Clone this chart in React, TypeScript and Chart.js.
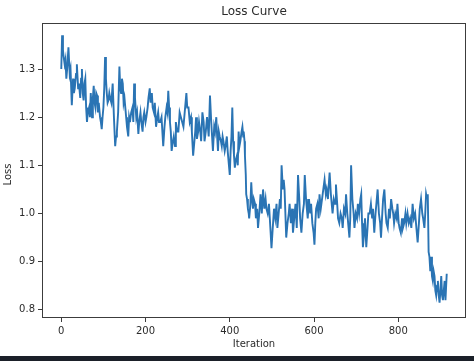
import React, { useEffect, useRef } from "react";
import { Chart, registerables } from "chart.js";

Chart.register(...registerables);

const TITLE = "Loss Curve";
const X_LABEL = "Iteration";
const Y_LABEL = "Loss";
const X_TICKS = [0, 200, 400, 600, 800];
const Y_TICKS = [0.8, 0.9, 1.0, 1.1, 1.2, 1.3];

const iterations = [
  0, 2, 4, 5, 8, 10, 12, 14, 17, 20, 22, 25, 28, 30, 32, 35, 37, 40, 42, 45, 47, 49, 51, 53, 55, 57, 59, 61, 63, 66,
  68, 70, 73, 75, 77, 79, 81, 83, 85, 87, 89, 92, 94, 96, 98, 100, 102, 104, 106, 108, 110, 112, 114, 116, 119, 122, 125, 128, 130,
  132, 135, 138, 140, 142, 144, 146, 148, 150, 152, 154, 156, 159, 161, 163, 166, 169, 171, 173, 175, 178, 180, 183, 185, 188, 190,
  193, 195, 197, 200, 202, 205, 207, 210, 212, 215, 217, 220, 222, 225, 228, 230, 232, 235, 238, 240, 242, 245, 247, 250,
  252, 254, 256, 258, 260, 262, 265, 267, 270, 272, 275, 278, 281, 284, 287, 290, 293, 297, 299, 302, 305, 308, 310, 313, 316,
  318, 320, 322, 325, 327, 330, 332, 335, 338, 340, 343, 346, 348, 350, 353, 356, 358, 360, 363, 365, 368, 370, 372, 374, 376,
  379, 381, 383, 385, 388, 390, 393, 395, 398, 400, 402, 404, 406, 408, 410, 412, 414, 417, 419, 421, 423, 425, 428, 430, 432,
  433, 435, 436, 438, 439,
  441, 443, 445, 446, 449, 451, 453, 455, 457, 460, 462, 465, 467, 470, 473, 476, 479, 482, 485, 487, 490, 493, 495, 497, 499,
  502, 505, 508, 511, 513, 516, 519, 521, 523, 526, 528, 530, 532, 534, 537, 540, 542, 545, 548, 550, 553, 556, 559, 562, 565,
  567, 570, 573, 576, 578, 581, 583, 585, 588, 591, 593, 596, 599, 601, 603, 605, 608, 611, 613, 616, 619, 622, 625, 628, 630,
  633, 635, 637, 640, 642, 644, 647, 650, 652, 655, 657, 660, 663, 666, 668, 671, 674, 676, 679, 681, 684, 686, 688, 691, 694,
  696, 699, 702, 704, 707, 710, 712, 714, 716, 719, 721, 724, 727, 729, 732, 735, 738, 740, 743, 746, 748, 751, 754, 757, 759,
  762, 764, 767, 770, 772, 775, 778, 780, 783, 786, 788, 790, 793, 796, 798, 801, 803, 806, 809, 811, 814, 817, 819, 822, 825,
  828, 831, 834, 837, 840, 843, 846, 849, 851, 854, 857, 859, 862, 864, 866, 868, 870,
  872, 874, 876, 878, 880, 882, 884, 886, 888, 890, 892, 894, 896, 898, 900, 902, 904, 906, 908, 910, 912, 915,
];

const loss = [
  1.30, 1.37, 1.34, 1.33, 1.31, 1.32, 1.28, 1.30, 1.345, 1.29, 1.30, 1.225, 1.28, 1.25, 1.26, 1.29, 1.31, 1.26, 1.27, 1.24, 1.28, 1.30, 1.25, 1.235, 1.27, 1.28, 1.22, 1.19, 1.21, 1.22,
  1.20, 1.25, 1.20, 1.24, 1.265, 1.23, 1.22, 1.25, 1.245, 1.21, 1.23, 1.20, 1.19, 1.175, 1.20, 1.22, 1.26, 1.325, 1.28, 1.25, 1.23, 1.235, 1.25, 1.24, 1.23, 1.27, 1.20, 1.14, 1.16,
  1.17, 1.21, 1.305, 1.26, 1.25, 1.28, 1.27, 1.23, 1.24, 1.22, 1.20, 1.18, 1.16, 1.20, 1.19, 1.21, 1.22, 1.19, 1.27, 1.24, 1.20, 1.21, 1.165, 1.19, 1.21, 1.19,
  1.17, 1.20, 1.21, 1.19, 1.20, 1.22, 1.24, 1.26, 1.23, 1.25, 1.22, 1.21, 1.23, 1.18, 1.20, 1.21, 1.19, 1.19, 1.20, 1.17, 1.14, 1.18, 1.20, 1.22,
  1.21, 1.255, 1.22, 1.19, 1.17, 1.13, 1.15, 1.16, 1.14, 1.19, 1.17, 1.17, 1.21, 1.20, 1.19, 1.18, 1.21, 1.25, 1.22, 1.22, 1.19, 1.20, 1.17, 1.12, 1.15,
  1.17, 1.20, 1.155, 1.17, 1.19, 1.17, 1.15, 1.21, 1.19, 1.15, 1.17, 1.20, 1.20, 1.16, 1.245, 1.19, 1.16, 1.13, 1.18, 1.17, 1.20, 1.16, 1.13, 1.17, 1.16,
  1.15, 1.14, 1.16, 1.15, 1.13, 1.14, 1.16, 1.13, 1.10, 1.08, 1.13, 1.16, 1.22, 1.15, 1.12, 1.095, 1.11, 1.12, 1.10, 1.17, 1.14, 1.15, 1.17, 1.18, 1.16,
  1.17, 1.15, 1.12, 1.08, 1.04,
  1.03, 1.01, 1.00, 0.99, 1.02, 1.065, 1.03, 1.01, 1.03, 1.02, 0.99, 1.01, 0.97, 1.00, 1.04, 1.00, 1.05, 1.01, 1.03, 1.01, 1.00, 1.02, 0.99, 0.96, 0.928,
  0.97, 1.01, 0.99, 1.02, 0.97, 1.00, 1.03, 1.01, 1.10, 1.05, 1.07, 1.05, 1.00, 0.95, 0.98, 1.00, 1.02, 0.98, 1.01, 0.96, 0.99, 1.02, 0.97, 1.08, 1.03,
  0.99, 0.96, 1.00, 1.02, 1.08, 1.03, 1.01, 0.99, 1.03, 1.00, 1.02, 0.98, 0.96, 0.935, 0.98, 1.01, 1.02, 0.99, 1.04, 1.01, 1.03, 1.05, 1.07, 1.04, 1.05,
  1.03, 1.06, 1.085, 1.04, 1.02, 1.00, 1.03, 1.02, 1.06, 1.02, 0.99, 0.98, 1.00, 0.99, 0.97, 1.01, 1.00, 1.04, 1.00, 0.98, 0.95, 0.99, 1.10, 1.03, 1.00,
  0.97, 1.00, 0.99, 1.02, 1.00, 1.03, 1.04, 0.98, 0.93, 0.96, 0.99, 0.93, 0.97, 1.00, 1.00, 1.02, 0.99, 1.01, 0.96, 1.00, 1.02, 1.05, 1.00, 0.98, 0.95,
  1.00, 1.03, 1.05, 1.00, 0.98, 0.97, 1.01, 0.99, 1.03, 1.01, 1.00, 0.98, 1.00, 0.99, 1.02, 0.98, 0.97, 0.96, 0.99, 0.97, 0.98, 1.00, 0.98, 1.00, 0.98,
  0.99, 0.97, 1.02, 0.99, 1.00, 0.97, 0.94, 0.98, 1.01, 1.03, 1.00, 0.99, 0.97, 1.00, 1.04, 1.03, 1.04,
  0.92, 0.91, 0.88, 0.91, 0.87, 0.86, 0.88, 0.87, 0.84, 0.83, 0.85, 0.86, 0.83, 0.815, 0.84, 0.87, 0.83, 0.82, 0.84, 0.86, 0.82, 0.875,
];

const FONT = "'DejaVu Sans', sans-serif";
const INK = "#2b2b2b";

export default function App() {
  const ref = useRef<HTMLCanvasElement | null>(null);

  useEffect(() => {
    if (!ref.current) return;
    const points = iterations.map((x, i) => ({ x, y: loss[i] }));

    const decor = {
      id: "decor",
      afterDraw(chart: any) {
        const { ctx, chartArea: a } = chart;
        ctx.save();
        ctx.strokeStyle = "#3c3c3c";
        ctx.lineWidth = 1;
        ctx.strokeRect(a.left + 0.5, a.top + 0.5, a.right - a.left - 1, a.bottom - a.top - 1);
        ctx.fillStyle = INK;
        ctx.textAlign = "center";
        ctx.textBaseline = "middle";
        ctx.font = `12px ${FONT}`;
        ctx.fillText(TITLE, (a.left + a.right) / 2, 12);
        ctx.font = `10px ${FONT}`;
        ctx.fillText(X_LABEL, (a.left + a.right) / 2, 344);
        ctx.translate(8, (a.top + a.bottom) / 2 + 4);
        ctx.rotate(-Math.PI / 2);
        ctx.fillText(Y_LABEL, 0, 0);
        ctx.restore();
      },
    };

    const chart = new Chart(ref.current, {
      type: "line",
      data: {
        datasets: [
          {
            data: points,
            borderColor: "#2a74b4",
            borderWidth: 1.9,
            pointRadius: 0,
            tension: 0,
            fill: false,
          },
        ],
      },
      options: {
        animation: false,
        responsive: false,
        maintainAspectRatio: false,
        layout: { padding: { left: 0, top: 23, right: 8, bottom: 0 } },
        plugins: { legend: { display: false }, tooltip: { enabled: false }, title: { display: false } },
        scales: {
          x: {
            type: "linear",
            min: -45.75,
            max: 960.75,
            afterBuildTicks: (s: any) => {
              s.ticks = X_TICKS.map((v) => ({ value: v }));
            },
            afterFit: (s: any) => {
              s.height = 43;
            },
            grid: { drawOnChartArea: false, tickLength: 4, color: "#3c3c3c" },
            border: { display: false },
            ticks: { color: INK, font: { family: FONT, size: 10 }, padding: 3, maxRotation: 0 },
          },
          y: {
            type: "linear",
            min: 0.783,
            max: 1.3956,
            afterBuildTicks: (s: any) => {
              s.ticks = Y_TICKS.map((v) => ({ value: v }));
            },
            afterFit: (s: any) => {
              s.width = 42;
            },
            grid: { drawOnChartArea: false, tickLength: 4, color: "#3c3c3c" },
            border: { display: false },
            ticks: {
              color: INK,
              font: { family: FONT, size: 10 },
              padding: 3,
              callback: (v: any) => Number(v).toFixed(1),
            },
          },
        },
      },
      plugins: [decor],
    });
    return () => chart.destroy();
  }, []);

  return (
    <div style={{ position: "absolute", left: 0, top: 0, width: 474, height: 361, background: "#ffffff" }}>
      <canvas ref={ref} width={474} height={361} style={{ display: "block" }} />
      <div style={{ position: "absolute", left: 0, top: 356, width: 474, height: 5, background: "#1b2029" }} />
    </div>
  );
}
